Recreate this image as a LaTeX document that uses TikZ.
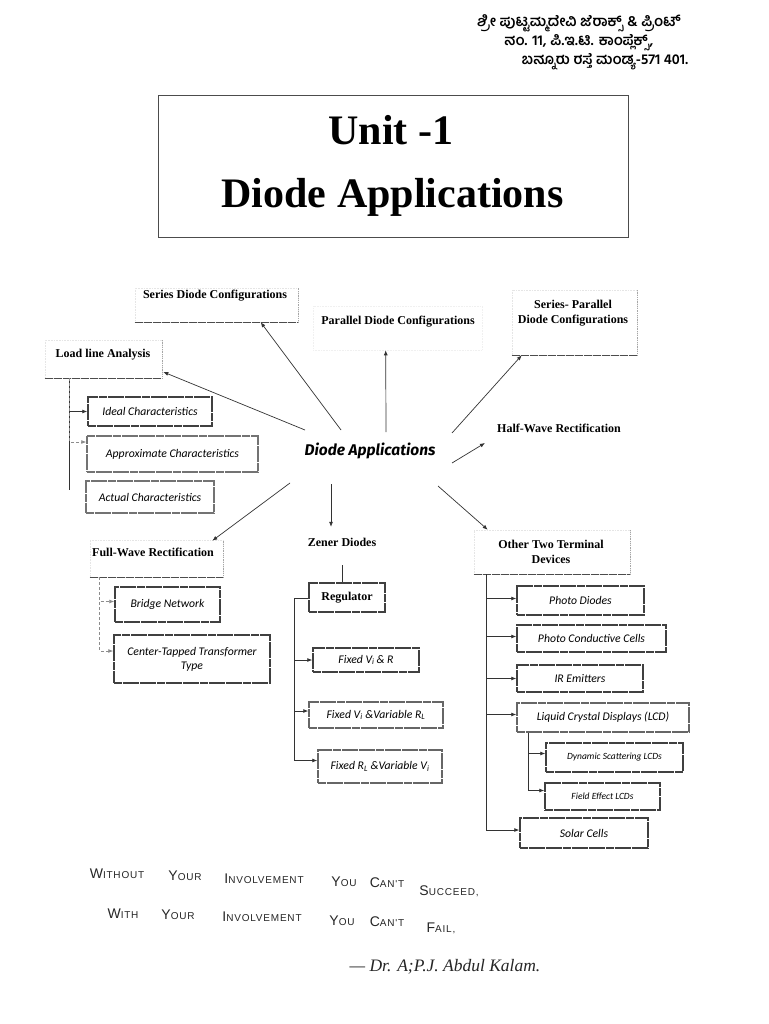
\documentclass[tikz,border=0pt]{standalone}
\usepackage{fontspec}
\setmainfont{Liberation Serif}
\newfontfamily\carlito{Carlito}
\newfontfamily\hubfont{Fira Sans}
\newfontfamily\handfont[LetterSpace=8]{Liberation Sans}
\newfontfamily\kanfont[Script=Kannada]{Hind Mysuru}
\usetikzlibrary{calc,arrows.meta}
\newcommand\hwd[2]{{\fontsize{14}{14}\selectfont #1}{\fontsize{10}{11}\selectfont #2}}
\begin{document}
\begin{tikzpicture}[x=1pt,y=-1pt,
  ttl/.style={font=\bfseries\fontsize{42}{42}\selectfont, anchor=base, inner sep=0},
  hdrtxt/.style={font=\bfseries\fontsize{12}{14.5}\selectfont, inner sep=0, align=center},
  hdrbox/.style={draw=black!10, densely dotted, line width=0.6pt, inner sep=0},
  ghost/.style={inner sep=0},
  hdrbot/.style={draw=black!70, line width=1.2pt, dash pattern=on 8pt off 1pt},
  hdrside/.style={draw=black!35, line width=0.8pt, densely dotted},
  ibox/.style={draw=black!75, line width=1.5pt, dash pattern=on 8pt off 0.6pt, inner sep=0, align=center, font=\carlito\itshape\fontsize{11.7}{14}\selectfont},
  sbox/.style={ibox, font=\carlito\itshape\fontsize{9.5}{11}\selectfont},
  rbox/.style={ibox, font=\bfseries\fontsize{12}{14}\selectfont},
  conn/.style={draw=black!80, line width=0.7pt},
  fconn/.style={draw=black!45, line width=0.7pt, densely dashed},
  arr/.style={conn, -{Latex[length=5pt,width=4pt]}},
  farr/.style={fconn, -{Latex[length=5pt,width=4pt]}},
  hand/.style={font=\handfont, text=black!85, inner sep=0},
  kan/.style={font=\kanfont\bfseries\fontsize{14.5}{16}\selectfont, inner sep=0}
]
\fill[white] (0,0) rectangle (768,1024);
\useasboundingbox (0,0) rectangle (768,1024);

% shop stamp
\node[kan] (k1) at (579,23) {ಶ್ರೀ ಪುಟ್ಟಮ್ಮದೇವಿ ಜೆರಾಕ್ಸ್ \& ಪ್ರಿಂಟ್};
\node[kan] (k2) at (579,43) {ನಂ. 11, ಪಿ.ಇ.ಟಿ. ಕಾಂಪ್ಲೆಕ್ಸ್,};
\node[kan] (k3) at (605,62) {ಬನ್ನೂರು ರಸ್ತೆ ಮಂಡ್ಯ-571 401.};

% title
\node[draw=black!70, line width=1pt, minimum width=470pt, minimum height=141pt, inner sep=0] (tbox) at (393,166.5) {};
\node[ttl] (t1) at (391,145) {Unit -1};
\node[ttl] (t2) at (392.5,208) {Diode Applications};

% hub
\node[font=\hubfont\bfseries\itshape\fontsize{15.5}{17}\selectfont, inner sep=0] (hub) at (370,451) {Diode Applications};

% header boxes
\node[hdrbox, minimum width=163pt, minimum height=34pt] (sdc) at (216.5,305) {};
\node[hdrtxt] (sdct) at (215,296) {Series Diode Configurations};
\node[hdrbox, minimum width=169pt, minimum height=44pt, draw=black!6] (pdc) at (397.5,328) {};
\node[hdrtxt] (pdct) at (398,322) {Parallel Diode Configurations};
\node[hdrbox, minimum width=125pt, minimum height=65pt] (spd) at (574.5,322.5) {};
\node[hdrtxt] (spdt) at (573,313) {Series- Parallel\\Diode Configurations};
\node[hdrtxt] (hwr) at (559,428) {Half-Wave Rectification};
\node[hdrbox, minimum width=156pt, minimum height=44pt] (ottd) at (552,552) {};
\node[hdrtxt] (ottdt) at (551,552) {Other Two Terminal\\Devices};
\node[hdrbox, minimum width=117pt, minimum height=38pt] (lla) at (103.5,359) {};
\node[hdrtxt] (llat) at (103,355) {Load line Analysis};
\node[hdrbox, minimum width=133pt, minimum height=37pt] (fwr) at (156.5,558.5) {};
\node[hdrtxt] (fwrt) at (153,552) {Full-Wave Rectification};
\node[ghost, minimum width=92pt, minimum height=37pt] (zen) at (342,546.5) {};
\node[hdrtxt] (zent) at (342,542) {Zener Diodes};

\foreach \b in {sdc,spd,ottd,lla,fwr}{
  \draw[hdrbot] (\b.south west) -- (\b.south east);
  \draw[hdrside] (\b.south east) -- (\b.north east);
}

% arrows from the hub
\draw[arr] ($(hub)+(-29,-21)$) -- ($(sdc.south west)+(126,0)$);
\draw[arr] ($(hub)+(16,-19)$) -- ($(pdc.south west)+(73,0)$);
\draw[arr] ($(hub)+(82,-18)$) -- ($(spd.south west)+(10,0)$);
\draw[arr] ($(hub)+(82,12)$) -- ($(hwr.west)+(-12,15)$);
\draw[arr] ($(hub)+(68,35)$) -- ($(ottd.north west)+(14,0)$);
\draw[arr] ($(hub)+(-39,33)$) -- ($(zen.north)+(-11,-1)$);
\draw[arr] ($(hub)+(-80,32)$) -- ($(fwr.north east)+(-11,1)$);
\draw[arr] ($(hub)+(-65,-21)$) -- ($(lla.east)+(1,13)$);

% load line analysis subtree
\node[ibox, minimum width=124pt, minimum height=29pt] (ideal) at (150,411.5) {Ideal Characteristics};
\node[ibox, minimum width=171pt, minimum height=36pt, draw=black!55] (approx) at (172.5,454) {Approximate Characteristics};
\node[ibox, minimum width=128pt, minimum height=32pt, draw=black!55] (actual) at (150,497) {Actual Characteristics};
\coordinate (llaT) at ($(lla.south west)+(25,0)$);
\draw[conn] (llaT) -- ($(llaT)+(0,112)$);
\draw[arr] (llaT) |- (ideal.west);
\draw[farr] (llaT) |- ($(approx.west)+(0,-12)$);

% full-wave subtree
\node[ibox, minimum width=105pt, minimum height=35pt] (bridge) at (167.5,604.5) {Bridge Network};
\node[ibox, minimum width=156pt, minimum height=48pt] (ctt) at (192,659) {Center-Tapped Transformer\\Type};
\coordinate (fwrT) at ($(fwr.south west)+(10,0)$);
\draw[farr] (fwrT) |- ($(bridge.west)+(0,-3)$);
\draw[farr] (fwrT) |- ($(ctt.west)+(0,-8)$);

% zener subtree
\node[rbox, minimum width=76pt, minimum height=29pt] (reg) at (347,597.5) {Regulator};
\draw[conn] (zen.south) -- (zen.south |- reg.north);
\node[ibox, minimum width=106pt, minimum height=24pt] (fvr) at (366,660) {Fixed V\textsubscript{i}\,\& R};
\node[ibox, minimum width=134pt, minimum height=26pt, draw=black!60] (fvrl) at (376,715) {Fixed V\textsubscript{i} \&Variable R\textsubscript{L}};
\node[ibox, minimum width=124pt, minimum height=33pt, draw=black!60] (frlv) at (380,766.5) {Fixed R\textsubscript{L} \&Variable V\textsubscript{i}};
\coordinate (regT) at ($(reg.west)+(-14,1)$);
\draw[conn] ($(reg.west)+(0,1)$) -- (regT);
\draw[arr] (regT) |- (fvr.west);
\draw[arr] (regT) |- ($(fvrl.west)+(0,-4)$);
\draw[arr] (regT) |- ($(frlv.west)+(0,-6)$);

% other two terminal devices subtree
\node[ibox, minimum width=127pt, minimum height=29pt] (pd) at (580.5,600.5) {Photo Diodes};
\node[ibox, minimum width=149pt, minimum height=27pt] (pcc) at (591.5,638.5) {Photo Conductive Cells};
\node[ibox, minimum width=126pt, minimum height=27pt] (ir) at (580,678.5) {IR Emitters};
\node[ibox, minimum width=172pt, minimum height=29pt, draw=black!60] (lcd) at (603,717.5) {Liquid Crystal Displays (LCD)};
\node[sbox, minimum width=137pt, minimum height=29pt] (dsl) at (614.5,757.5) {Dynamic Scattering LCDs};
\node[sbox, minimum width=115pt, minimum height=27pt] (fel) at (602.5,796.5) {Field Effect LCDs};
\node[ibox, minimum width=128pt, minimum height=30pt] (solar) at (584,833) {Solar Cells};
\coordinate (ottdT) at ($(ottd.south west)+(13,0)$);
\draw[arr] (ottdT) |- ($(pd.west)+(0,-2)$);
\draw[arr] (ottdT) |- ($(pcc.west)+(0,-2)$);
\draw[arr] (ottdT) |- (ir.west);
\draw[arr] (ottdT) |- ($(lcd.west)+(0,-3)$);
\draw[arr] (ottdT) |- ($(solar.west)+(0,-3)$);
\coordinate (lcdT) at ($(lcd.south west)+(12,0)$);
\draw[arr] (lcdT) |- ($(dsl.west)+(0,-4)$);
\draw[arr] (lcdT) |- ($(fel.west)+(0,-6)$);

% handwritten quote
\node[hand] (w1) at (117,874) {\hwd{W}{ITHOUT}};
\node[hand] (w2) at (185,876) {\hwd{Y}{OUR}};
\node[hand] (w3) at (264,879) {\hwd{I}{NVOLVEMENT}};
\node[hand] (w4) at (344,882) {\hwd{Y}{OU}};
\node[hand] (w5) at (387,883) {\hwd{C}{AN'T}};
\node[hand] (w6) at (449,891) {\hwd{S}{UCCEED,}};
\node[hand] (v1) at (123,914) {\hwd{W}{ITH}};
\node[hand] (v2) at (178,915) {\hwd{Y}{OUR}};
\node[hand] (v3) at (262,917) {\hwd{I}{NVOLVEMENT}};
\node[hand] (v4) at (342,921) {\hwd{Y}{OU}};
\node[hand] (v5) at (387,922) {\hwd{C}{AN'T}};
\node[hand] (v6) at (441,928) {\hwd{F}{AIL,}};
\node[inner sep=0, font=\itshape\fontsize{17.5}{18}\selectfont, text=black!85] (sig) at (445,967) {--- Dr. A;P.J. Abdul Kalam.};
\end{tikzpicture}
\end{document}
